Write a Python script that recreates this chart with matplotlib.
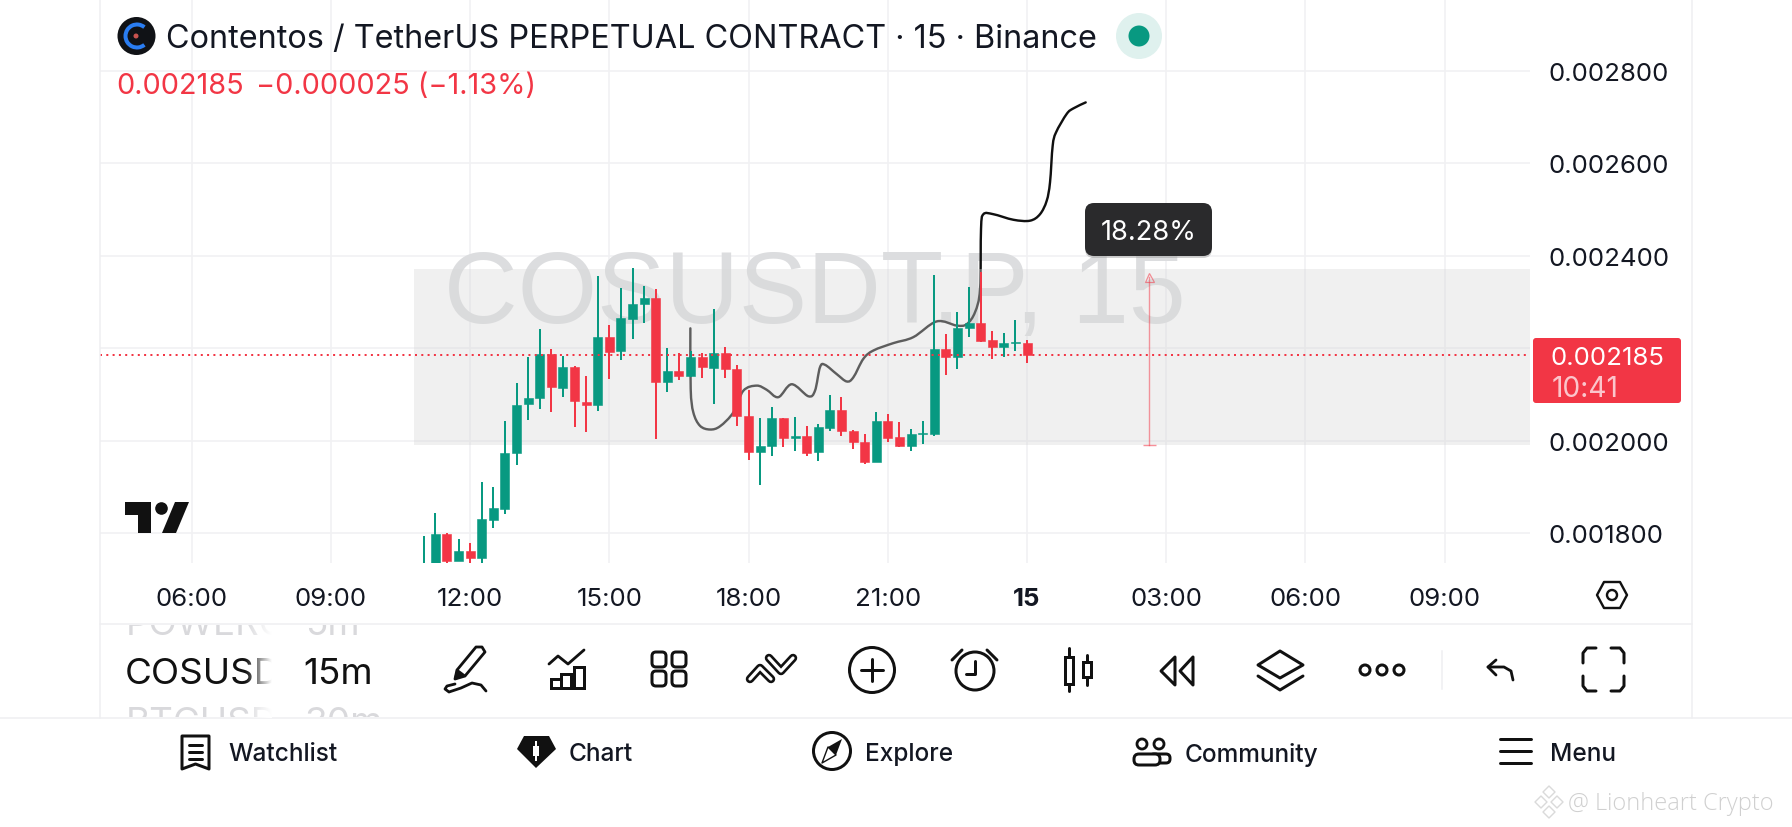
import numpy as np
import matplotlib
matplotlib.use("Agg")
import matplotlib.pyplot as plt
from matplotlib.patches import Circle, Rectangle, FancyBboxPatch, Polygon, Arc, PathPatch
from matplotlib.path import Path

plt.rcParams['font.family'] = ['Inter', 'DejaVu Sans']

# ---- data -----------------------------------------------------------
opens = [0.001708,0.001722,0.001798,0.001740,0.001761,0.001747,0.001829,0.001852,0.001973,0.002079,
         0.002093,0.002188,0.002114,0.002159,0.002084,0.002077,0.002225,0.002194,0.002264,0.002295,
         0.002308,0.002126,0.002150,0.002140,0.002181,0.002158,0.002189,0.002156,0.002053,0.001975,
         0.001988,0.002049,0.002005,0.002009,0.001975,0.002028,0.002066,0.002021,0.001998,0.001953,
         0.002042,0.002007,0.001988,0.002014,0.002014,0.002198,0.002182,0.002243,0.002255,0.002217,
         0.002202,0.002211,0.002212]
highs = [0.001793,0.001843,0.001801,0.001786,0.001778,0.001910,0.001899,0.002042,0.002124,0.002181,
         0.002242,0.002198,0.002184,0.002161,0.002140,0.002356,0.002250,0.002330,0.002374,0.002334,
         0.002328,0.002200,0.002189,0.002195,0.002190,0.002285,0.002202,0.002164,0.002109,0.002048,
         0.002073,0.002050,0.002052,0.002031,0.002035,0.002098,0.002094,0.002024,0.002014,0.002061,
         0.002057,0.002041,0.002026,0.002042,0.002358,0.002231,0.002278,0.002333,0.002365,0.002237,
         0.002232,0.002262,0.002218]
lows = [0.001700,0.001715,0.001734,0.001740,0.001730,0.001730,0.001811,0.001841,0.001947,0.002045,
        0.002068,0.002063,0.002095,0.002029,0.002019,0.002065,0.002134,0.002174,0.002219,0.002255,
        0.002004,0.002105,0.002132,0.002137,0.002136,0.002079,0.002136,0.002032,0.001959,0.001905,
        0.001967,0.001987,0.001978,0.001967,0.001956,0.002021,0.002011,0.001982,0.001950,0.001953,
        0.001998,0.001986,0.001978,0.001993,0.002009,0.002143,0.002156,0.002224,0.002214,0.002177,
        0.002182,0.002195,0.002169]
closes = [0.001729,0.001798,0.001740,0.001761,0.001747,0.001830,0.001854,0.001974,0.002078,0.002093,
          0.002187,0.002115,0.002159,0.002085,0.002077,0.002225,0.002192,0.002265,0.002296,0.002308,
          0.002126,0.002150,0.002140,0.002181,0.002160,0.002189,0.002155,0.002053,0.001976,0.001988,
          0.002049,0.002006,0.002009,0.001973,0.002029,0.002066,0.002020,0.001998,0.001954,0.002042,
          0.002006,0.001988,0.002014,0.002016,0.002198,0.002182,0.002244,0.002255,0.002216,0.002203,
          0.002211,0.002214,0.002185]
first_bar_hour = 11.0
bar_hours_step = 0.25

sketch_hours = [16.745,16.752,16.809,16.953,17.169,17.384,17.671,17.887,18.174,18.390,18.641,18.929,
                19.288,19.431,19.539,19.647,19.898,20.114,20.258,20.473,20.689,21.120,21.551,22.054,
                22.485,22.700,22.880,22.988,23.009,23.060,23.275,23.706,24.065,24.280,24.424,24.496,
                24.553,24.625,24.855,24.999,25.265]
sketch_price = [0.002243,0.002112,0.002061,0.002032,0.002024,0.002031,0.002061,0.002108,0.002119,0.002110,
                0.002094,0.002122,0.002096,0.002108,0.002159,0.002164,0.002144,0.002128,0.002137,0.002177,
                0.002195,0.002211,0.002224,0.002258,0.002249,0.002252,0.002278,0.002328,0.002458,0.002490,
                0.002490,0.002478,0.002476,0.002490,0.002519,0.002559,0.002638,0.002667,0.002707,0.002719,
                0.002732]

last_price = 0.002185
range_low = 0.001990
range_high = 0.002354
box_top = 0.002371
box_bottom = 0.0019905
range_hour = 26.63
box_start_hour = 10.79

price_ticks = [0.0028, 0.0026, 0.0024, 0.0022, 0.0020, 0.0018]
price_labels = ['0.002800', '0.002600', '0.002400', '', '0.002000', '0.001800']
time_ticks = [6, 9, 12, 15, 18, 21, 24, 27, 30, 33]
time_labels = ['06:00', '09:00', '12:00', '15:00', '18:00', '21:00', '15', '03:00', '06:00', '09:00']

GREEN = '#089981'
RED = '#F23645'
INK = '#131722'
W, H = 1792, 828
PX = 0.72
AXFS = 18.6

fig = plt.figure(figsize=(W / 100, H / 100), dpi=100, facecolor='white')

# ---- chart pane ------------------------------------------------------
ax = fig.add_axes([100 / W, 1 - 564 / H, 1430 / W, 564 / H], zorder=1)
ax.set_xlim(4.022, 34.84)
ax.set_ylim(0.0017351, 0.0029558)
for s in ax.spines.values():
    s.set_visible(False)
ax.set_axisbelow(True)
ax.grid(True, color='#f1f1f3', lw=1.6 * PX)
ax.yaxis.tick_right()
ax.set_yticks(price_ticks)
ax.set_yticklabels(price_labels, fontsize=AXFS, color=INK)
ax.set_xticks(time_ticks)
ax.set_xticklabels(time_labels, fontsize=AXFS, color=INK)
ax.tick_params(axis='both', length=0)
ax.tick_params(axis='y', pad=19 * PX)
ax.tick_params(axis='x', pad=24 * PX)
for lab in ax.get_xticklabels():
    if lab.get_text() == '15':
        lab.set_fontweight('bold')

ax.text(19.43, 0.002313, 'COSUSDT.P, 15', family='Liberation Sans', fontsize=73.5,
        color='#dcdddf', ha='center', va='center', zorder=1)

# the hand-drawn line, smoothed through the read points with Bezier handles
sx = np.array(sketch_hours)
sy = np.array(sketch_price)
verts = [(sx[0], sy[0])]
codes = [Path.MOVETO]
for i in range(len(sx) - 1):
    a = max(i - 1, 0)
    b = min(i + 2, len(sx) - 1)
    verts.append((sx[i] + (sx[i + 1] - sx[a]) / 6, sy[i] + (sy[i + 1] - sy[a]) / 6))
    verts.append((sx[i + 1] - (sx[b] - sx[i]) / 6, sy[i + 1] - (sy[b] - sy[i]) / 6))
    verts.append((sx[i + 1], sy[i + 1]))
    codes += [Path.CURVE4] * 3
ax.add_patch(PathPatch(Path(verts, codes), facecolor='none', edgecolor='#101010', lw=2.4 * PX,
                       zorder=2, joinstyle='round', capstyle='round'))
ax.add_patch(Rectangle((box_start_hour, box_bottom), 40, box_top - box_bottom,
                       facecolor='#d9d9d9', alpha=0.39, edgecolor='none', zorder=3))

bar_x = first_bar_hour + bar_hours_step * np.arange(len(opens))
o, h_, l, c = map(np.array, (opens, highs, lows, closes))
colors = [GREEN if cc >= oo else RED for oo, cc in zip(o, c)]
ax.vlines(bar_x, l, h_, colors=colors, lw=2.0 * PX, zorder=4)
ax.bar(bar_x, np.abs(c - o), bottom=np.minimum(o, c), width=9.0 / 46.4, color=colors,
       edgecolor=colors, lw=0.4, zorder=4.5)

ax.axhline(last_price, color=RED, lw=2.0 * PX, ls=(0, (1.0, 2.15)), zorder=5)

ax.plot([range_hour, range_hour], [range_low, range_high], color=RED, alpha=0.5, lw=1.4 * PX, zorder=5)
ax.plot([range_hour], [range_low], marker='_', ms=13 * PX, mew=1.4 * PX, color=RED, alpha=0.55, zorder=5)
ax.plot([range_hour], [range_high], marker='^', ms=9 * PX, mfc='none', mew=1.2 * PX, color=RED, alpha=0.55, zorder=5)

# ---- interface overlay (pixel coordinates) ---------------------------
ui = fig.add_axes([0, 0, 1, 1], zorder=5)
ui.set_axis_off()
ui.patch.set_alpha(0)
ui.set_xlim(0, W)
ui.set_ylim(H, 0)
ui.set_autoscale_on(False)


def stroke(pts, lw=3.0, color='#111111', z=3):
    xs, ys = zip(*pts)
    ui.plot(xs, ys, color=color, lw=lw * PX, solid_capstyle='round', solid_joinstyle='round', zorder=z)


def outline(pts, lw=3.0, color='#111111', fc='none', z=3):
    ui.add_patch(Polygon(pts, closed=True, fill=fc != 'none', facecolor=fc, edgecolor=color,
                         lw=lw * PX, joinstyle='round', zorder=z))


def rrect(x, y, w, h, r, fc='none', ec='#111111', lw=3.0, z=3, alpha=None):
    ui.add_patch(FancyBboxPatch((x + r, y + r), w - 2 * r, h - 2 * r, boxstyle=f'round,pad={r}',
                                facecolor=fc, edgecolor=ec, lw=lw * PX, zorder=z, alpha=alpha))


def circ(x, y, r, fc='none', ec='#111111', lw=3.0, z=3):
    ui.add_patch(Circle((x, y), r, facecolor=fc, edgecolor=ec, lw=lw * PX, zorder=z))


# frame lines
for x in (100, 1692):
    ui.plot([x, x], [0, 719], color='#efeff1', lw=1.5 * PX, zorder=1)
for y, x0 in ((625, 100), (719, 0)):
    ui.plot([x0, 1692 if y == 625 else W], [y, y], color='#efeff1', lw=1.5 * PX, zorder=1)

# header
circ(136.5, 37, 19, fc='#101216', ec='none', lw=0)
ui.add_patch(Arc((137, 37), 23, 23, theta1=50, theta2=310, color='#2a7df2', lw=4.0 * PX, zorder=4))
circ(136, 37, 2.5, fc='#c9534f', ec='none', lw=0, z=4)
ui.text(166, 39, 'Contentos / TetherUS PERPETUAL CONTRACT · 15 · Binance', fontsize=23.35,
        color=INK, va='center', ha='left')
circ(1139, 37, 23, fc='#dff1ee', ec='none', lw=0)
circ(1139, 37, 10.5, fc=GREEN, ec='none', lw=0, z=4)
ui.text(116, 87, '0.002185', fontsize=20.8, color=RED, va='center', ha='left')
ui.text(256, 87, '−0.000025 (−1.13%)', fontsize=20.8, color=RED, va='center', ha='left')

# TradingView mark
outline([(125, 503), (151, 503), (151, 534), (138, 534), (138, 516), (125, 516)], lw=0, color='#111111', fc='#111111')
circ(161.5, 509.5, 6.3, fc='#111111', ec='none', lw=0)
outline([(175, 503), (189, 503), (176, 534), (162, 534)], lw=0, color='#111111', fc='#111111')

# tooltip
rrect(1085, 206, 127, 53, 9, fc='#999999', ec='none', lw=0, z=2, alpha=0.45)
rrect(1085, 204, 127, 53, 9, fc='#2a2a2c', ec='none', lw=0, z=3)
ui.text(1148.5, 233.5, '18.28%', fontsize=19.6, color='white', ha='center', va='center', zorder=4)

# price tag
rrect(1533, 339, 148, 65, 3, fc=RED, ec='none', lw=0, z=3)
ui.text(1550, 359, '0.002185', fontsize=AXFS, color='white', ha='left', va='center', zorder=4)
ui.text(1552, 390, '10:41', fontsize=20.2, color='#fbc5cb', ha='left', va='center', zorder=4)

# settings hexagon
outline([(1597, 596), (1604, 583), (1620, 583), (1627, 596), (1620, 609), (1604, 609)], lw=2.4)
circ(1612, 596, 5, lw=2.4)

# symbol rows
for txt, x, base, col in (('POWERC', 126, 635, '#d9d9dc'), ('5m', 305, 635, '#d9d9dc'),
                          ('COSUSD', 125, 684, '#111111'), ('15m', 303, 684, '#111111'),
                          ('BTCUSD', 126, 733, '#d9d9dc'), ('30m', 305, 733, '#d9d9dc')):
    t = ui.text(x, base, txt, fontsize=26.5, color=col, ha='left', va='baseline', zorder=2)
    clip_w = 172 if x < 300 else 400
    t.set_clip_path(Rectangle((100, 626), clip_w, 92, transform=ui.transData))
    t.set_clip_on(True)
grad = np.ones((2, 40, 4))
grad[:, :, 3] = np.linspace(0, 1, 40)
ui.imshow(grad, extent=(245, 272, 719, 626), aspect='auto', zorder=2.5, interpolation='bilinear')
ui.set_xlim(0, W)
ui.set_ylim(H, 0)

# toolbar icons
# pencil
outline([(455, 680), (457, 671), (476, 648), (482, 648), (485, 653), (465, 677)], lw=2.8)
stroke([(457, 671), (465, 677)], lw=2.4)
outline([(455, 680), (457, 672), (463, 677)], lw=2, fc='#111111')
stroke([(455, 685), (447, 687), (445, 690), (449, 693), (461, 689), (472, 684), (481, 686), (486, 692)], lw=2.8)
# bars and line
stroke([(549, 665), (558, 657), (568, 665), (584, 651)], lw=2.8)
for x0, y0 in ((551, 680), (561, 675), (574, 668)):
    ui.add_patch(Rectangle((x0, y0), 10, 689 - y0, fill=False, edgecolor='#111111', lw=3 * PX, zorder=3))
# grid
for x0 in (652, 672):
    for y0 in (653, 672):
        rrect(x0, y0, 14, 15, 4)
# chevrons
for pts in ([(750, 680), (760, 669), (771, 680)], [(769, 659), (781, 672), (793, 659)]):
    stroke(pts, lw=8.5)
    stroke(pts, lw=3.2, color='white', z=4)
# plus
circ(872, 671, 22.5)
stroke([(861, 671), (883, 671)])
stroke([(872, 660), (872, 682)])
# alarm
circ(975, 672, 19)
stroke([(975, 662), (975, 675), (966, 675)])
stroke([(952, 661), (962, 651)])
stroke([(987, 651), (997, 661)])
# candles icon
stroke([(1069, 649), (1069, 692)])
ui.add_patch(Rectangle((1065, 658), 8, 27, facecolor='white', edgecolor='#111111', lw=3 * PX, zorder=3.5))
stroke([(1087, 656), (1087, 686)])
ui.add_patch(Rectangle((1083, 663), 8, 15, facecolor='white', edgecolor='#111111', lw=3 * PX, zorder=3.5))
# rewind
outline([(1161, 672), (1175, 658), (1175, 686)])
outline([(1180, 672), (1193, 658), (1193, 686)])
# layers
outline([(1280, 652), (1303, 666), (1280, 679), (1258, 666)])
stroke([(1258, 677), (1280, 691), (1303, 677)])
# dots
for x in (1365, 1382, 1399):
    circ(x, 671, 5)
ui.plot([1442, 1442], [652, 690], color='#efeff1', lw=1.5 * PX, zorder=2)
# undo
stroke([(1496, 661), (1488, 668), (1496, 676)], lw=2.8)
stroke([(1488, 668), (1504, 668), (1511, 672), (1513, 681)], lw=2.8)
# fullscreen
for sgx, sgy, cx, cy in ((1, 1, 1583, 649), (-1, 1, 1624, 649), (1, -1, 1583, 692), (-1, -1, 1624, 692)):
    stroke([(cx, cy + sgy * 15), (cx, cy + sgy * 5), (cx + sgx * 4, cy), (cx + sgx * 13, cy)], lw=3)

# tab bar
LBL = dict(fontsize=17.6, color=INK, va='center', ha='left', fontweight='medium')
ui.text(228, 755, 'Watchlist', **LBL)
ui.text(569, 755, 'Chart', **LBL)
ui.text(865, 755, 'Explore', **LBL)
ui.text(1185, 755, 'Community', **LBL)
ui.text(1550, 755, 'Menu', **LBL)
# watchlist icon
outline([(182, 737), (209, 737), (209, 770), (195.5, 765), (182, 770)], lw=3)
for y in (746, 753, 760):
    stroke([(189, y), (202, y)], lw=3)
# chart icon
outline([(524, 737), (549, 737), (556, 750), (536, 769), (517, 750)], lw=0, color='#111111', fc='#111111')
ui.add_patch(Rectangle((533, 747), 6, 10, facecolor='white', edgecolor='none', zorder=4))
ui.plot([536, 536], [743, 761], color='white', lw=2 * PX, zorder=4)
# explore icon
circ(832, 752, 18.5)
outline([(842, 740), (836, 756), (828, 748)], lw=0, color='#111111', fc='#111111')
outline([(822, 764), (828, 748), (836, 756)], lw=1.4, color='#111111', fc='white')
# community icon
circ(1142, 745, 5, lw=2.8)
circ(1159, 745, 5, lw=2.8)
rrect(1150, 755, 20, 9, 4, fc='white', lw=3, z=3)
rrect(1134, 755, 26, 11, 5, fc='white', lw=3, z=3.5)
# menu icon
for y in (740, 752, 764):
    stroke([(1500, y), (1531, y)], lw=3)

# image watermark
ui.text(1568, 804, '@ Lionheart Crypto', fontsize=17.0, color='#d0d0d0', va='center', ha='left',
        family='Open Sans', fontweight='light')
for dx, dy in ((0, -10), (-8, 0), (8, 0), (0, 10)):
    x0, y0 = 1549 + dx, 803 + dy
    outline([(x0, y0 - 6), (x0 + 6, y0), (x0, y0 + 6), (x0 - 6, y0)], lw=1.4, color='#dadada')

fig.savefig('out.png', dpi=100, facecolor='white')
